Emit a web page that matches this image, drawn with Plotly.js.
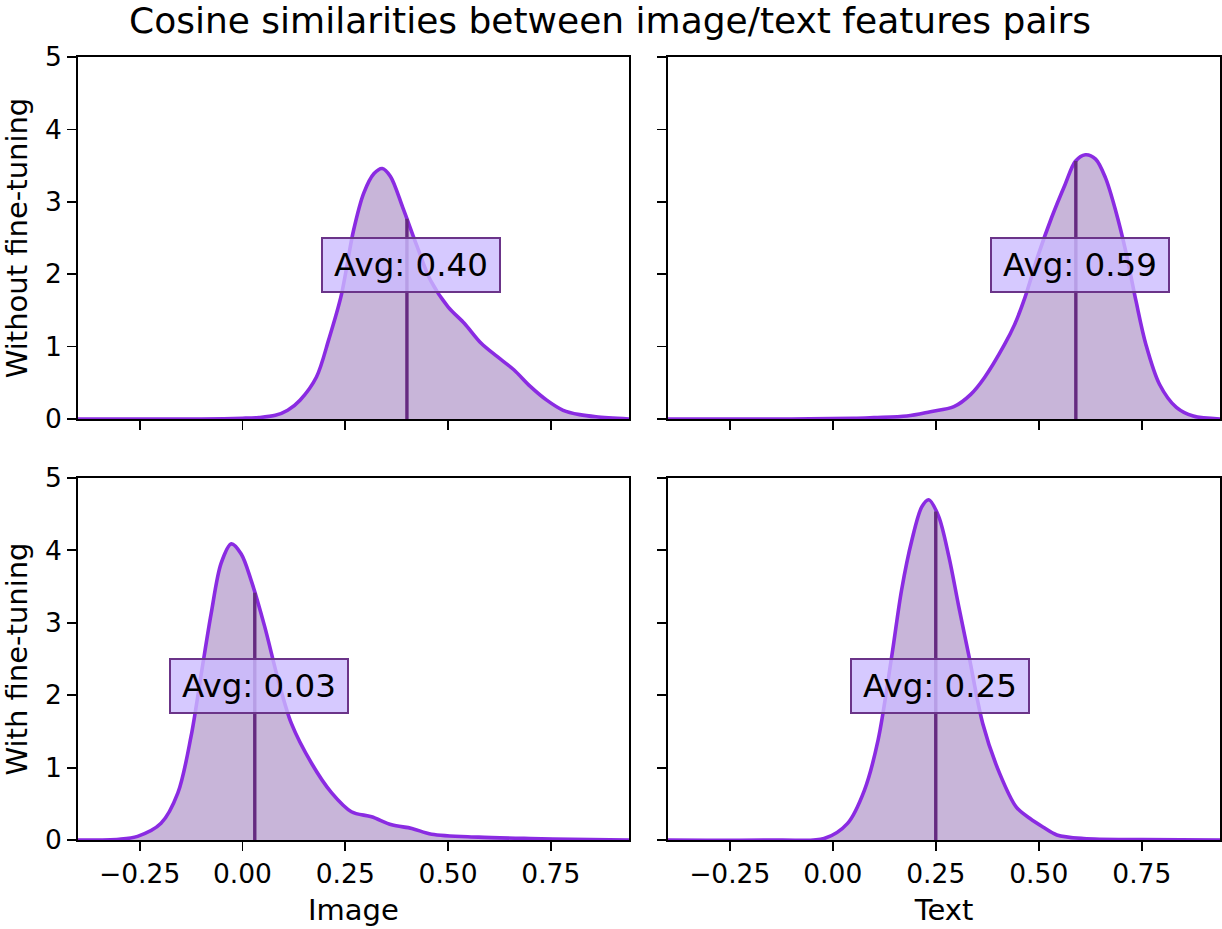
<!DOCTYPE html>
<html>
<head>
<meta charset="utf-8">
<script src="https://cdn.plot.ly/plotly-3.0.1.min.js"></script>
<style>
  html, body { margin: 0; padding: 0; background: #fff; }
  #chart { width: 1222px; height: 929px; }
</style>
</head>
<body>
<div id="chart"></div>
<script>
// ─────────────────────────────
// DATA (density)
// ─────────────────────────────
const imgNoFtX = [-0.40, -0.10, 0.00, 0.04, 0.08, 0.11, 0.14, 0.18, 0.21, 0.24, 0.27, 0.295, 0.32, 0.34, 0.36, 0.39, 0.425, 0.457, 0.50, 0.54, 0.58, 0.62, 0.66, 0.70, 0.74, 0.78, 0.82, 0.86, 0.94];
const imgNoFtY = [0, 0, 0.01, 0.02, 0.05, 0.12, 0.26, 0.58, 1.10, 1.70, 2.60, 3.12, 3.39, 3.46, 3.35, 2.92, 2.38, 1.92, 1.55, 1.32, 1.05, 0.86, 0.68, 0.45, 0.26, 0.12, 0.06, 0.03, 0];

const txtNoFtX = [-0.40, -0.10, 0.05, 0.10, 0.18, 0.237, 0.294, 0.335, 0.368, 0.417, 0.441, 0.466, 0.499, 0.531, 0.564, 0.589, 0.613, 0.638, 0.662, 0.687, 0.711, 0.736, 0.76, 0.793, 0.834, 0.875, 0.94];
const txtNoFtY = [0, 0, 0.01, 0.02, 0.04, 0.10, 0.17, 0.34, 0.57, 1.03, 1.30, 1.67, 2.27, 2.78, 3.24, 3.56, 3.65, 3.59, 3.33, 2.87, 2.32, 1.63, 1.03, 0.48, 0.16, 0.04, 0];

const imgFtX = [-0.40, -0.30, -0.255, -0.198, -0.157, -0.125, -0.10, -0.076, -0.052, -0.027, -0.003, 0.021, 0.054, 0.087, 0.119, 0.168, 0.217, 0.265, 0.314, 0.363, 0.412, 0.46, 0.574, 0.70, 0.80, 0.94];
const imgFtY = [0, 0.01, 0.05, 0.23, 0.65, 1.43, 2.30, 3.13, 3.82, 4.09, 3.95, 3.59, 2.95, 2.21, 1.61, 1.06, 0.65, 0.39, 0.32, 0.21, 0.16, 0.08, 0.04, 0.02, 0.01, 0];

const txtFtX = [-0.40, -0.128, -0.021, 0.036, 0.077, 0.11, 0.143, 0.167, 0.192, 0.216, 0.233, 0.257, 0.282, 0.306, 0.331, 0.364, 0.405, 0.446, 0.478, 0.51, 0.544, 0.609, 0.75, 0.94];
const txtFtY = [0, 0, 0.02, 0.23, 0.69, 1.38, 2.53, 3.45, 4.14, 4.60, 4.70, 4.47, 3.91, 3.22, 2.53, 1.61, 0.92, 0.45, 0.30, 0.18, 0.07, 0.02, 0.005, 0];

const panelMeans = [0.40, 0.59, 0.03, 0.25];
const panelLabels = ['Avg: 0.40', 'Avg: 0.59', 'Avg: 0.03', 'Avg: 0.25'];
const xTicks = [-0.25, 0, 0.25, 0.5, 0.75];
const yTicks = [0, 1, 2, 3, 4, 5];


// ─────────────────────────────
// STYLE
// ─────────────────────────────
const FONT = 'DejaVu Sans, Liberation Sans, sans-serif';
const HIST_FILL = 'rgb(200,181,217)';
const KDE_COLOR = '#8a2be2';
const MEAN_COLOR = '#652a80';
const BOX_FILL = 'rgba(204,187,255,0.8)';
const BOX_EDGE = '#6b3489';

const PANELS = [
  { x: imgNoFtX, y: imgNoFtY, ax: '' },
  { x: txtNoFtX, y: txtNoFtY, ax: '2' },
  { x: imgFtX,   y: imgFtY,   ax: '3' },
  { x: txtFtX,   y: txtFtY,   ax: '4' }
];


// ─────────────────────────────
// HELPERS
// ─────────────────────────────
function _interp(xs, ys, x) {
  for (let i = 1; i < xs.length; i++) {
    if (x <= xs[i]) {
      const t = (x - xs[i - 1]) / (xs[i] - xs[i - 1]);
      return ys[i - 1] + t * (ys[i] - ys[i - 1]);
    }
  }
  return ys[ys.length - 1];
}

function _xaxis(domain, anchor, showLabels, title) {
  return {
    domain, anchor,
    range: [-0.40, 0.94],
    tickvals: xTicks,
    tickformat: '.2f',
    showticklabels: showLabels,
    ticks: 'outside', ticklen: 9, tickwidth: 1.8, tickcolor: '#000',
    showline: true, linecolor: '#000', linewidth: 1.8, mirror: true,
    showgrid: false, zeroline: false,
    tickfont: { family: FONT, size: 26.5, color: '#000' },
    title: title ? { text: title, standoff: 12, font: { family: FONT, size: 29, color: '#000' } } : { text: '' }
  };
}

function _yaxis(domain, anchor, showLabels, title) {
  return {
    domain, anchor,
    range: [0, 5],
    tickvals: yTicks,
    showticklabels: showLabels,
    ticks: 'outside', ticklen: 9, tickwidth: 1.8, tickcolor: '#000',
    showline: true, linecolor: '#000', linewidth: 1.8, mirror: true,
    showgrid: false, zeroline: false,
    tickfont: { family: FONT, size: 26.5, color: '#000' },
    title: title ? { text: title, standoff: 12, font: { family: FONT, size: 29, color: '#000' } } : { text: '' }
  };
}


// ─────────────────────────────
// TRACES
// ─────────────────────────────
const traces = [];
const annotations = [];

PANELS.forEach((p, i) => {
  const xa = 'x' + p.ax;
  const ya = 'y' + p.ax;

  // histogram area + KDE line
  traces.push({
    x: p.x, y: p.y, xaxis: xa, yaxis: ya,
    type: 'scatter', mode: 'lines',
    fill: 'tozeroy', fillcolor: HIST_FILL,
    line: { color: KDE_COLOR, width: 3.6, shape: 'spline', smoothing: 0.9 },
    hoverinfo: 'skip'
  });

  // mean line up to the curve
  const m = panelMeans[i];
  traces.push({
    x: [m, m], y: [0, _interp(p.x, p.y, m)], xaxis: xa, yaxis: ya,
    type: 'scatter', mode: 'lines',
    line: { color: MEAN_COLOR, width: 3.4 },
    hoverinfo: 'skip'
  });

  annotations.push({
    xref: xa, yref: ya,
    x: m, y: 2.13, xshift: 4,
    xanchor: 'center', yanchor: 'middle',
    text: panelLabels[i], showarrow: false,
    font: { family: FONT, size: 32.5, color: '#000' },
    bgcolor: BOX_FILL, bordercolor: BOX_EDGE, borderwidth: 2,
    borderpad: 7, width: 162, height: 38
  });
});


// ─────────────────────────────
// LAYOUT
// ─────────────────────────────
const colL = [0.0638, 0.5147];
const colR = [0.5466, 0.9984];
const rowT = [0.549, 0.9386];
const rowB = [0.0958, 0.4855];

const layout = {
  width: 1222, height: 929,
  margin: { l: 0, r: 0, t: 0, b: 0 },
  paper_bgcolor: '#fff', plot_bgcolor: '#fff',
  showlegend: false,
  font: { family: FONT, color: '#000' },
  title: {
    text: 'Cosine similarities between image/text features pairs',
    x: 0.4992, xanchor: 'center', y: 0.978, yanchor: 'middle',
    font: { family: FONT, size: 36, color: '#000' }
  },
  xaxis:  _xaxis(colL, 'y',  false, ''),
  xaxis2: _xaxis(colR, 'y2', false, ''),
  xaxis3: _xaxis(colL, 'y3', true, 'Image'),
  xaxis4: _xaxis(colR, 'y4', true, 'Text'),
  yaxis:  _yaxis(rowT, 'x',  true, 'Without fine-tuning'),
  yaxis2: _yaxis(rowT, 'x2', false, ''),
  yaxis3: _yaxis(rowB, 'x3', true, 'With fine-tuning'),
  yaxis4: _yaxis(rowB, 'x4', false, ''),
  annotations
};

Plotly.newPlot('chart', traces, layout, { displayModeBar: false, staticPlot: true });
</script>
</body>
</html>
